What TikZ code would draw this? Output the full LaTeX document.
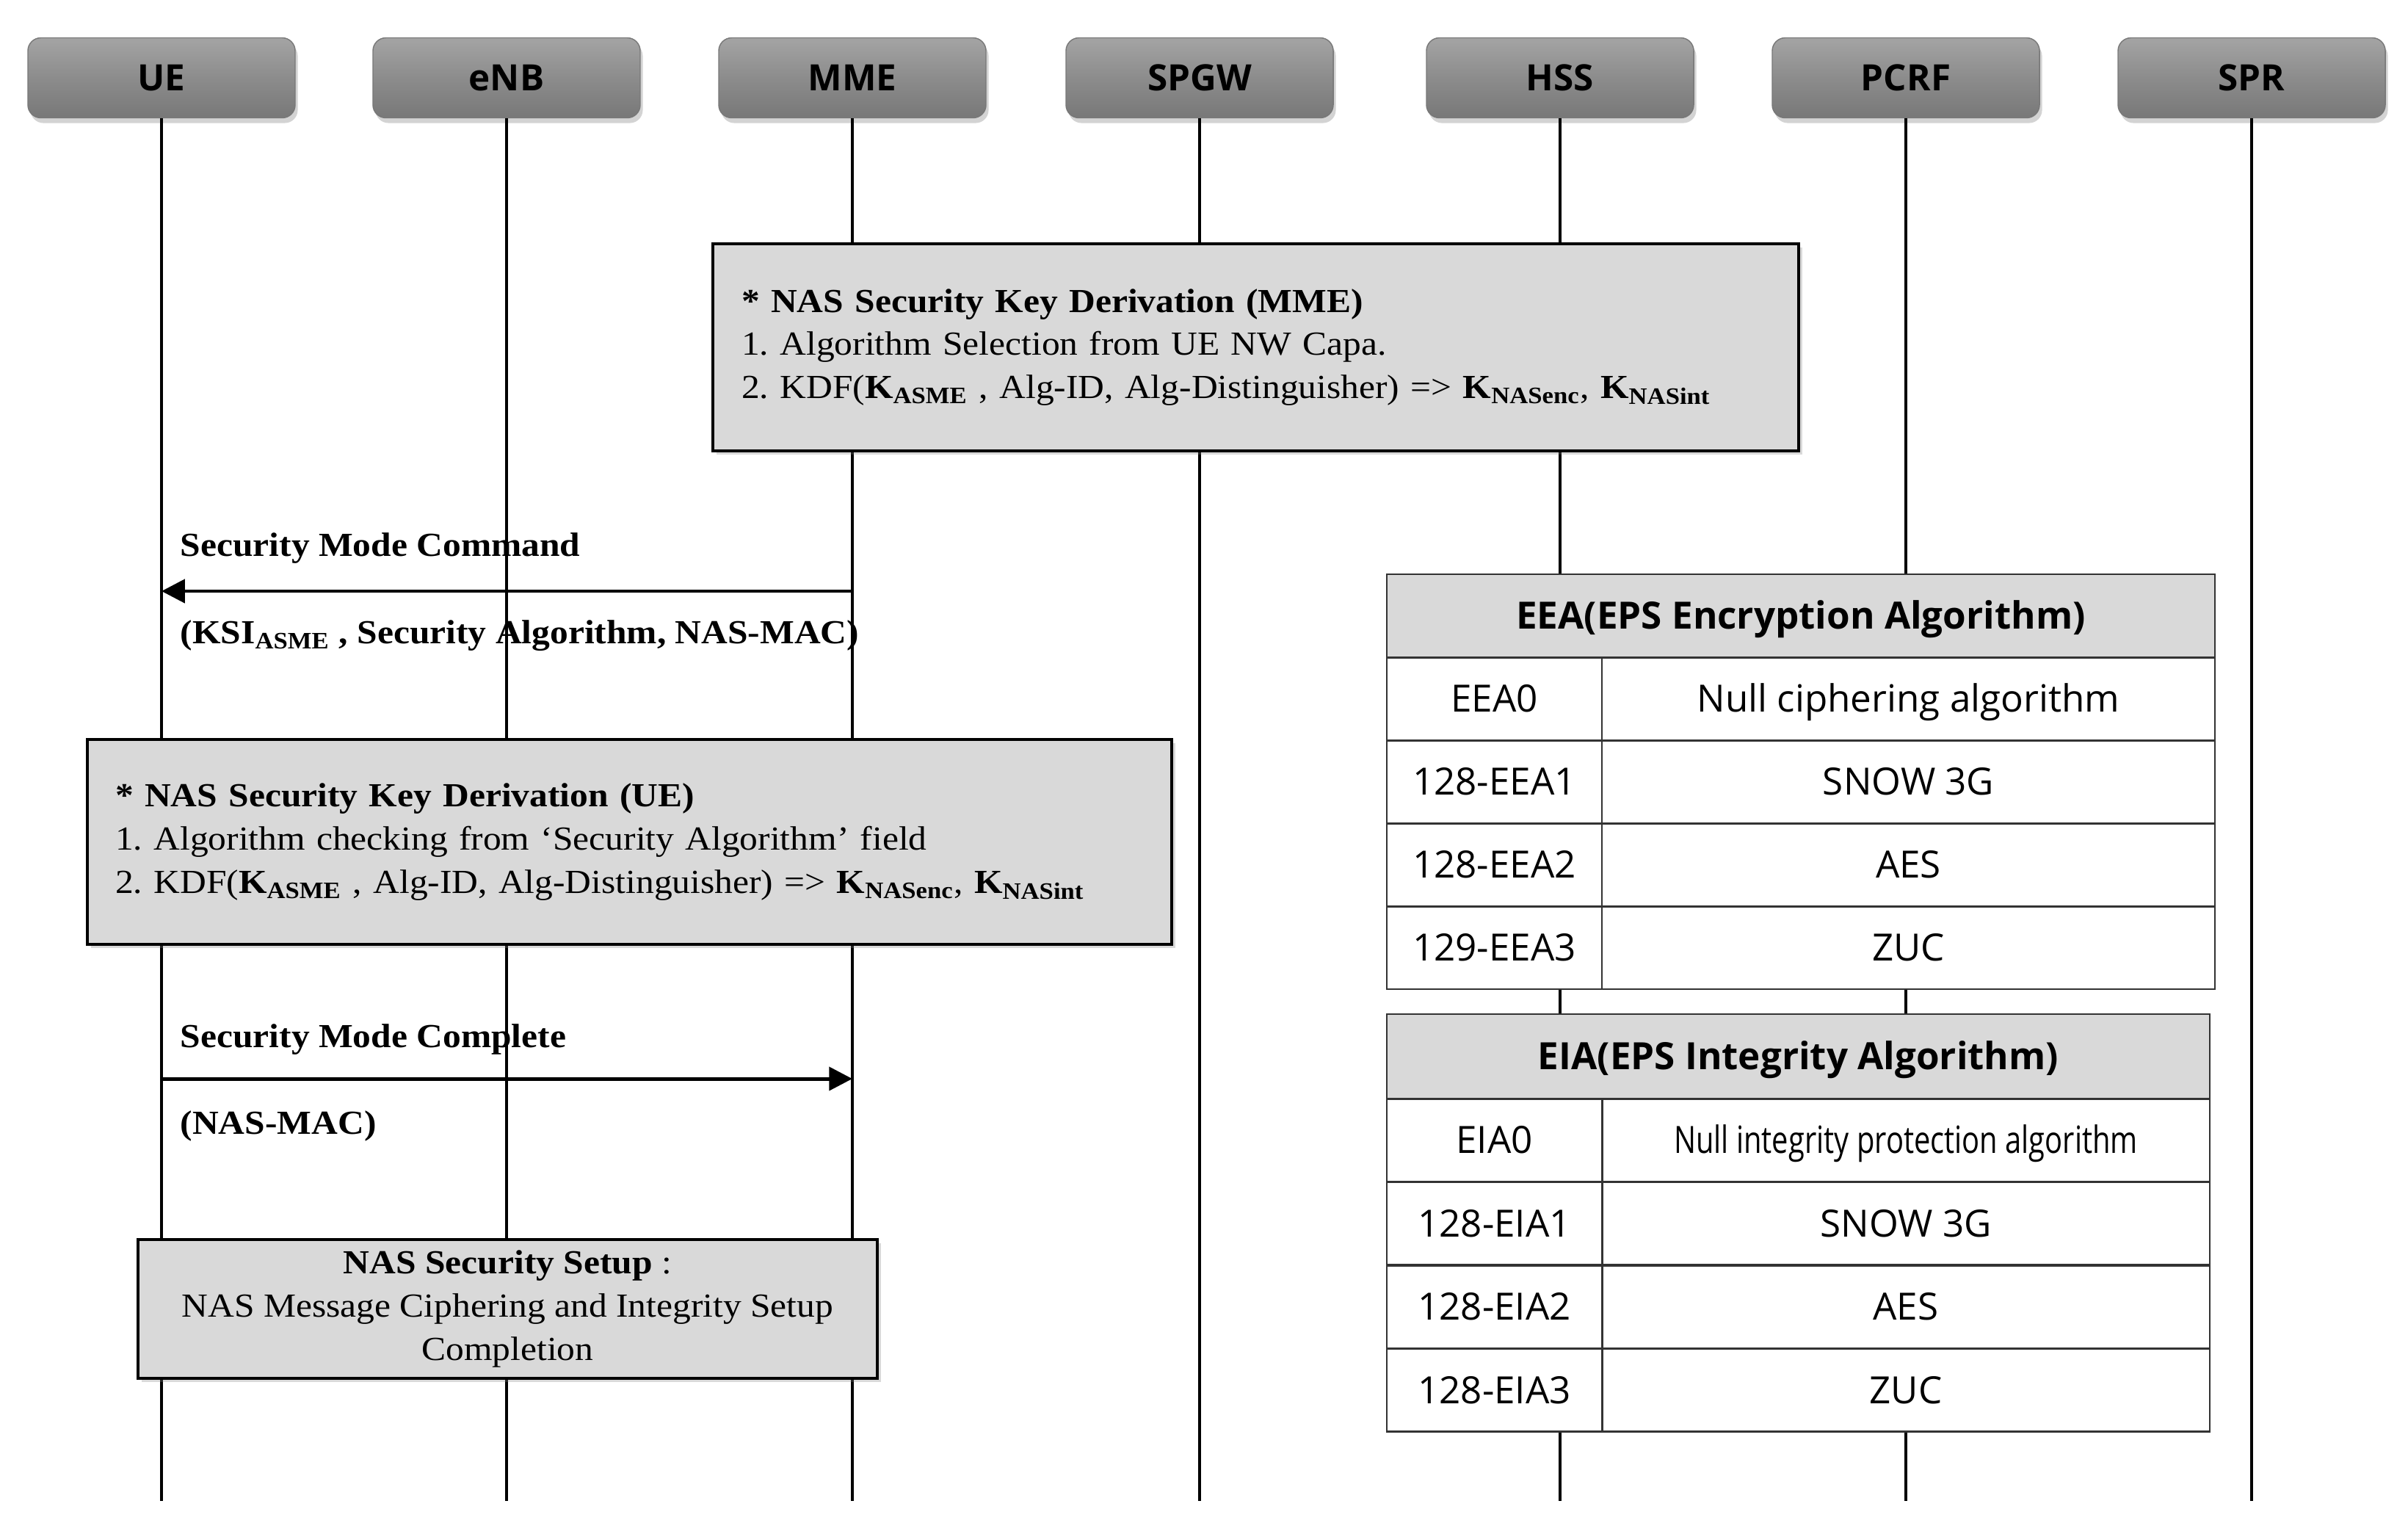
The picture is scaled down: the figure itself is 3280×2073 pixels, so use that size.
\documentclass[tikz,border=0pt]{standalone}
\usepackage{fontspec}
\usepackage{graphicx}
\setmainfont{Liberation Serif}[FakeStretch=1.08]
\newfontfamily\hdrfont{Open Sans}
\usetikzlibrary{arrows.meta,shadows}

\definecolor{hdrgray}{HTML}{8C8C8C}
\definecolor{hdrlight}{HTML}{A4A4A4}
\definecolor{hdrdark}{HTML}{787878}
\definecolor{boxgray}{HTML}{D9D9D9}

\newcommand{\kbold}[1]{\textbf{K}\textsubscript{\textbf{#1}}}

\tikzset{
    entity/.style={rounded corners=5pt, top color=hdrlight, bottom color=hdrdark,
        middle color=hdrgray, draw=hdrdark, minimum width=103.2pt, minimum height=30.9pt,
        drop shadow={opacity=0.35, shadow xshift=1pt, shadow yshift=-2pt},
        font=\hdrfont\bfseries\fontsize{14}{16}\selectfont},
    life/.style={line width=0.9pt},
    notebox/.style={draw, line width=1.3pt, fill=boxgray,
        drop shadow={opacity=0.3, shadow xshift=1.5pt, shadow yshift=-1.5pt},
        font=\fontsize{13}{16.7}\selectfont},
    msg/.style={-{Triangle[length=9pt, width=9pt]}, line width=1.4pt},
    msglbl/.style={anchor=west, inner sep=0pt, font=\bfseries\fontsize{13}{15}\selectfont},
    cell/.style={draw=black!80, line width=0.8pt, fill=white, inner sep=0pt,
        minimum height=32pt, text height=12.6pt, text depth=2.4pt,
        font=\hdrfont\fontsize{14.5}{17}\selectfont},
    cellhead/.style={cell, fill=boxgray, font=\hdrfont\bfseries\fontsize{14.5}{17}\selectfont},
}

\begin{document}
\frenchspacing
\begin{tikzpicture}[x=0.2835pt, y=-0.2835pt]
    \useasboundingbox (0,0) rectangle (3280,2073);

    % entities and lifelines
    \foreach \nm/\lbl/\xx in {ue/UE/220, enb/eNB/690, mme/MME/1161, spgw/SPGW/1634,
                              hss/HSS/2125, pcrf/PCRF/2596, spr/SPR/3067}{
        \node[entity] (\nm) at (\xx,106) {\lbl};
        \coordinate (\nm-end) at (\xx,2044);
        \draw[life] (\nm.south) -- (\nm-end);
    }

    % key derivation in the MME
    \node[notebox, minimum width=419.3pt, minimum height=79.9pt, inner xsep=11.1pt,
          text width=397.1pt, align=left] (mmekdf) at (1710.5,473)
        {\textbf{* NAS Security Key Derivation (MME)}\\
         1. Algorithm Selection from UE NW Capa.\\
         2. KDF(\kbold{ASME} , Alg-ID, Alg-Distinguisher) => \kbold{NASenc}, \kbold{NASint}};

    % security mode command
    \coordinate (smc) at (0,805);
    \draw[msg] (mme |- smc) -- (ue |- smc);
    \node[msglbl] (smclbl) at (245,747) {Security Mode Command};
    \node[msglbl] (smcpar) at (245,866) {(KSI\textsubscript{ASME} , Security Algorithm, NAS-MAC)};

    % key derivation in the UE
    \node[notebox, minimum width=418.7pt, minimum height=79.1pt, inner xsep=10.8pt,
          text width=397.1pt, align=left] (uekdf) at (857.5,1146.5)
        {\textbf{* NAS Security Key Derivation (UE)}\\
         1. Algorithm checking from `Security Algorithm' field\\
         2. KDF(\kbold{ASME} , Alg-ID, Alg-Distinguisher) => \kbold{NASenc}, \kbold{NASint}};

    % security mode complete
    \coordinate (smcp) at (0,1469);
    \draw[msg] (ue |- smcp) -- (mme |- smcp);
    \node[msglbl] (smcplbl) at (245,1416) {Security Mode Complete};
    \node[msglbl] (smcppar) at (245,1533) {(NAS-MAC)};

    % setup done
    \node[notebox, minimum width=285.5pt, minimum height=53.6pt, inner sep=0pt,
          align=center] (setup) at (691.5,1782.5)
        {\textbf{NAS Security Setup} :\\
         NAS Message Ciphering and Integrity Setup\\
         Completion};

    % encryption algorithms
    \node[cellhead, minimum width=319.8pt] (eea) at (2453,838.5)
        {EEA(EPS Encryption Algorithm)};
    \foreach \i/\code/\alg in {1/EEA0/Null ciphering algorithm, 2/128-EEA1/SNOW 3G,
                               3/128-EEA2/AES, 4/129-EEA3/ZUC}{
        \node[cell, minimum width=83.1pt] (eea-id\i) at (2035.5,{895+113*(\i-0.5)}) {\code};
        \node[cell, minimum width=236.7pt] (eea-alg\i) at (2599.5,{895+113*(\i-0.5)}) {\alg};
    }

    % integrity algorithms
    \node[cellhead, minimum width=317.8pt, minimum height=32.6pt] (eia) at (2449.5,1438.5)
        {EIA(EPS Integrity Algorithm)};
    \foreach \i/\code/\alg in {1/EIA0/{\scalebox{0.78}[1]{Null integrity protection algorithm}},
                               2/128-EIA1/SNOW 3G, 3/128-EIA2/AES, 4/128-EIA3/ZUC}{
        \node[cell, minimum width=83.1pt] (eia-id\i) at (2035.5,{1496+113.5*(\i-0.5)}) {\code};
        \node[cell, minimum width=234.7pt] (eia-alg\i) at (2596,{1496+113.5*(\i-0.5)}) {\alg};
    }
\end{tikzpicture}
\end{document}
